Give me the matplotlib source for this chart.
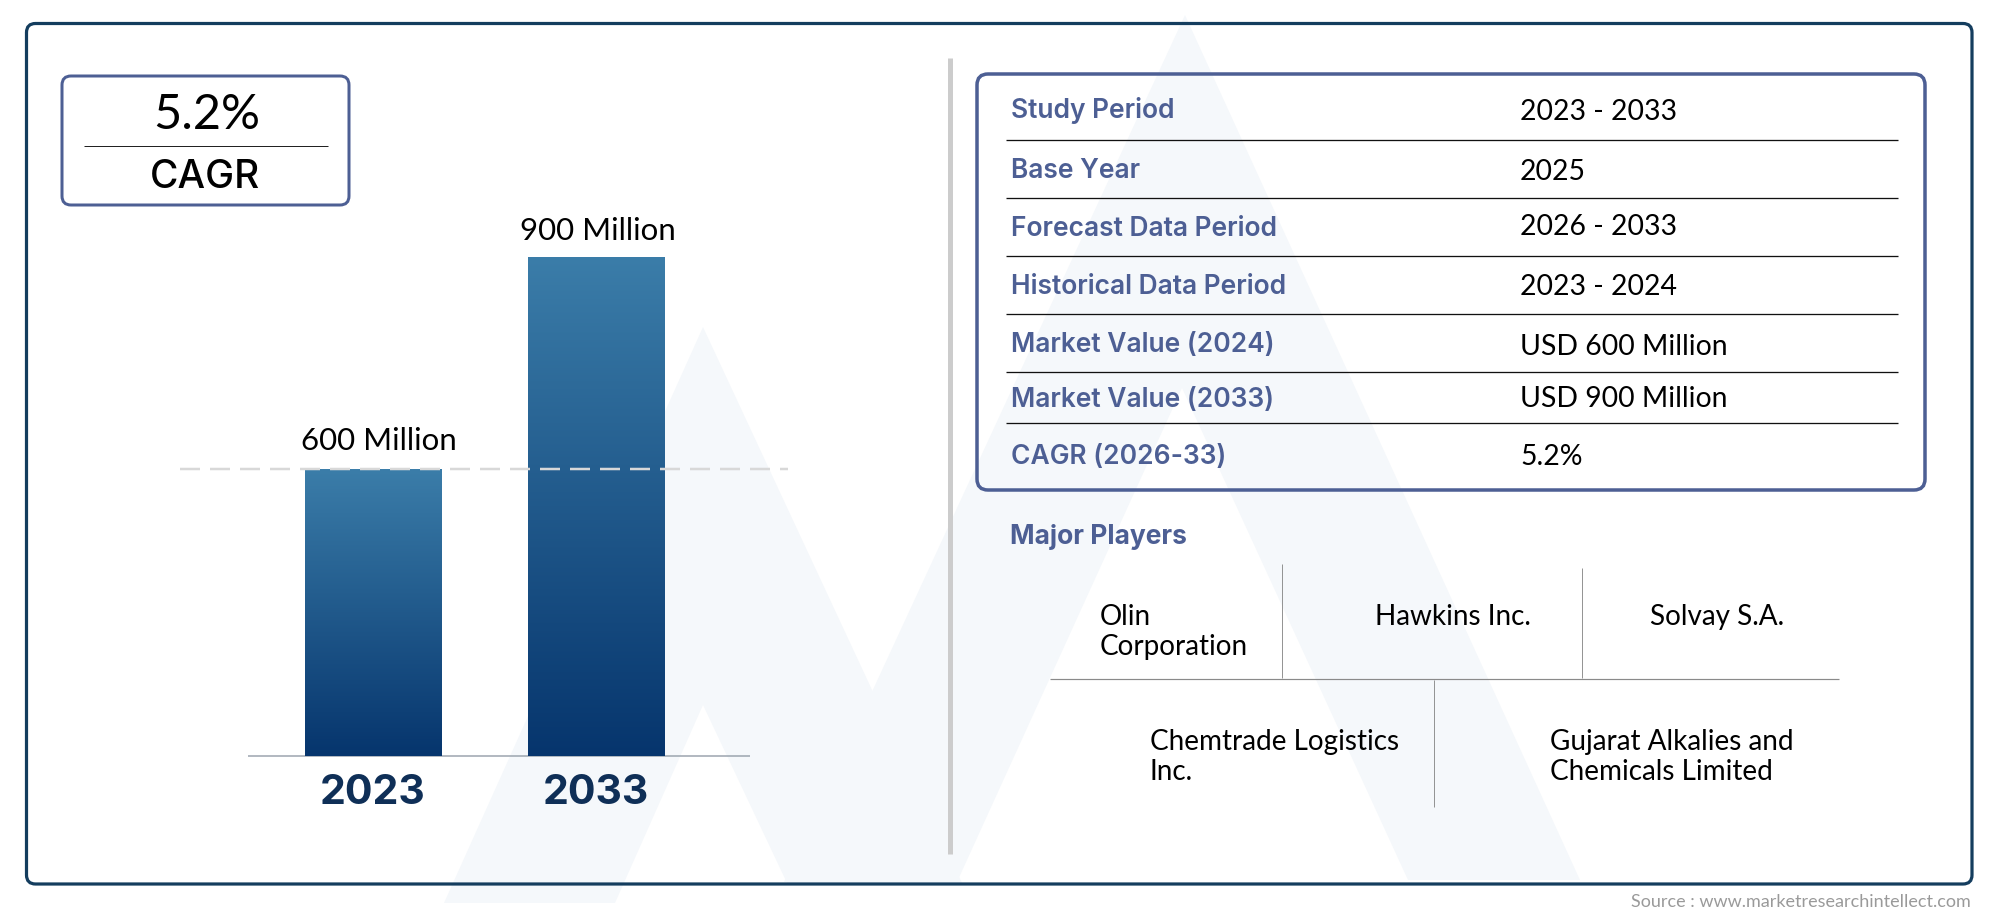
import numpy as np
import matplotlib
matplotlib.use("Agg")
import matplotlib.pyplot as plt
from matplotlib.patches import FancyBboxPatch, Polygon
from matplotlib.colors import LinearSegmentedColormap

# ---- data ----
years = ["2023", "2033"]
market_values = [600, 900]
value_labels = ["600 Million", "900 Million"]
cagr_text = "5.2%"
cagr_label = "CAGR"
table_keys = ["Study Period", "Base Year", "Forecast Data Period", "Historical Data Period",
              "Market Value (2024)", "Market Value (2033)", "CAGR (2026-33)"]
table_values = ["2023 - 2033", "2025", "2026 - 2033", "2023 - 2024",
                "USD 600 Million", "USD 900 Million", "5.2%"]
players_title = "Major Players"
source_text = "Source : www.marketresearchintellect.com"

# ---- styles ----
BODY = "Lato"
HEAD = "Inter"
NAVY = "#143d5e"
SLATE = "#4d5f94"
LOGO = "#f5f8fb"
W, H = 2000, 917
px = 0.72

fig = plt.figure(figsize=(20, 9.17), dpi=100, facecolor="white")
ov = fig.add_axes([0, 0, 1, 1], zorder=0)
ov.set_xlim(0, W)
ov.set_ylim(H, 0)
ov.axis("off")

# faint logo in the background
ov.add_patch(Polygon([(703, 327), (962, 883), (787, 883), (703, 705), (615, 903), (444, 903)],
                     closed=True, fc=LOGO, ec="none", zorder=0))
ov.add_patch(Polygon([(1185, 15), (1580, 880), (1408, 880), (1182, 388), (957, 882), (784, 882)],
                     closed=True, fc=LOGO, ec="none", zorder=0))


def box(x0, y0, x1, y1, color, lw, r):
    ov.add_patch(FancyBboxPatch((x0, y0), x1 - x0, y1 - y0,
                                boxstyle=f"round,pad=0,rounding_size={r}",
                                fc="none", ec=color, lw=lw * px, zorder=2))


def line(xs, ys, color, lw):
    ov.plot(xs, ys, color=color, lw=lw * px, solid_capstyle="butt", zorder=2)


def label(x, y, s, size, family=BODY, color="black", weight="normal", ha="left"):
    ov.text(x, y + 3, s, fontsize=size, family=family, color=color, weight=weight,
            ha=ha, va="center", zorder=3)


box(26.5, 23.5, 1972, 884, NAVY, 3.2, 9)
box(62, 76, 349, 205, SLATE, 3, 9)
line([84, 328], [146, 146], "#222222", 1)
label(207, 112, cagr_text, 35, ha="center")
label(205, 175, cagr_label, 28, family=HEAD, weight="medium", ha="center")

line([950, 950], [58, 854], "#cccccc", 5)

# summary table
box(977, 74, 1925, 490, SLATE, 3.5, 11)
rule_ys = [140, 198, 256, 314, 372, 423]
for y in rule_ys:
    line([1006, 1898], [y, y], "#111111", 1.3)
key_ys = [108, 168, 226, 284, 342, 397, 454]
val_ys = [109, 169, 224, 284, 344, 396, 454]
for k, y in zip(table_keys, key_ys):
    label(1011, y, k, 19, family=HEAD, color=SLATE, weight="semibold")
for v, y in zip(table_values, val_ys):
    label(1520, y, v, 20.4)

# major players
label(1010, 534, players_title, 19, family=HEAD, color=SLATE, weight="bold")
line([1050, 1839], [679, 679], "#8a8a8a", 1.2)
line([1282, 1282], [564, 678], "#8a8a8a", 0.9)
line([1582, 1582], [568, 678], "#8a8a8a", 0.9)
line([1434, 1434], [680, 807], "#8a8a8a", 0.9)
label(1100, 614, "Olin", 20.1)
label(1100, 644, "Corporation", 20.1)
label(1375, 614, "Hawkins Inc.", 20.1)
label(1650, 614, "Solvay S.A.", 20.1)
label(1150, 739, "Chemtrade Logistics", 20.1)
label(1150, 769, "Inc.", 20.1)
label(1550, 739, "Gujarat Alkalies and", 20.1)
label(1550, 769, "Chemicals Limited", 20.1)
label(1971, 899, source_text, 13, color="#9a9a9a", ha="right")

# bar chart: truncated value axis, as in the reference
ax = fig.add_axes([180 / W, 1 - 756 / H, (788 - 180) / W, (756 - 200) / H], zorder=1)
ax.patch.set_alpha(0)
ax.set_xlim(-0.865, 1.861)
ax.set_ylim(195, 980)
positions = np.arange(len(years))
bar_w = 136 / 223
grad = LinearSegmentedColormap.from_list("bar", ["#3b7da9", "#06356d"])
bars = ax.bar(positions, market_values, width=bar_w, bottom=0, color="none", zorder=2)
for rect, v in zip(bars, market_values):
    im = ax.imshow(np.linspace(0, 1, 256).reshape(-1, 1), cmap=grad, aspect="auto",
                   extent=(rect.get_x(), rect.get_x() + bar_w, 195, v), zorder=2)
    im.set_clip_path(rect)
ax.set_xlim(-0.865, 1.861)
ax.set_ylim(195, 980)
ax.hlines(market_values[0], -0.865, 1.861, colors="#d8d8d8", lw=2.5 * px,
          linestyles=(0, (8, 4)), zorder=3)
for i, (v, s, dx, dy) in enumerate(zip(market_values, value_labels, [6, 2], [28, 26])):
    ax.annotate(s, (i, v), xytext=(dx * px, dy * px), textcoords="offset points",
                ha="center", va="center", fontsize=22.5, family=BODY, color="black")
for s in ["top", "left", "right", "bottom"]:
    ax.spines[s].set_visible(False)
ax.set_yticks([])
ax.set_xticks(positions, years)
ax.tick_params(axis="x", length=0, pad=13)
for i, t in enumerate(ax.get_xticklabels()):
    t.set_fontsize(29.5)
    t.set_family(HEAD)
    t.set_weight("bold")
    t.set_color("#0f2f57")
line([248, 750], [756, 756], "#9aa3ad", 1.5)

fig.savefig("out.png", dpi=100)
